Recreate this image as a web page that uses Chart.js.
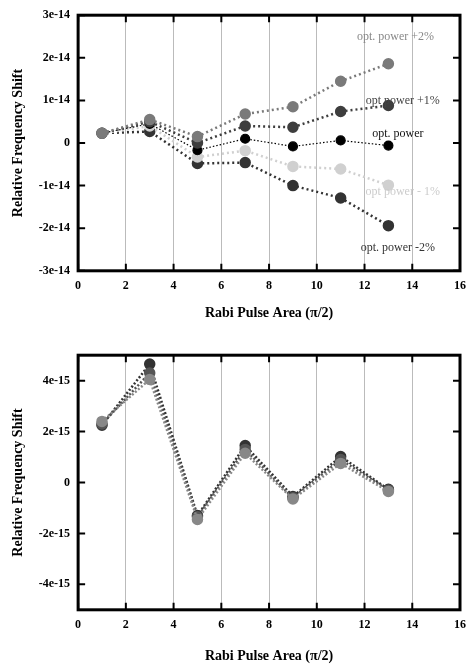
<!DOCTYPE html>
<html>
<head>
<meta charset="utf-8">
<script src="https://cdn.jsdelivr.net/npm/chart.js@4/dist/chart.umd.min.js"></script>
<style>
  body { margin: 0; background: #fff; }
  .box { position: absolute; left: 0; width: 474px; }
</style>
</head>
<body>
<div class="box" style="top:0;height:326px"><canvas id="top"></canvas></div>
<div class="box" style="top:340px;height:329px"><canvas id="bottom"></canvas></div>
<script>
// Datos
const pulsos = [1, 3, 5, 7, 9, 11, 13];

const potMas2 = [0.23e-14, 0.55e-14, 0.15e-14, 0.68e-14, 0.85e-14, 1.45e-14, 1.86e-14];
const potMas1 = [0.23e-14, 0.50e-14, 0.00e-14, 0.40e-14, 0.37e-14, 0.74e-14, 0.88e-14];
const potOpt = [0.23e-14, 0.45e-14, -0.17e-14, 0.10e-14, -0.08e-14, 0.06e-14, -0.06e-14];
const potMenos1 = [0.23e-14, 0.40e-14, -0.33e-14, -0.18e-14, -0.55e-14, -0.61e-14, -0.99e-14];
const potMenos2 = [0.23e-14, 0.27e-14, -0.48e-14, -0.46e-14, -1.00e-14, -1.29e-14, -1.94e-14];

const inferiorA = [2.25e-15, 4.65e-15, -1.30e-15, 1.45e-15, -0.55e-15, 1.02e-15, -0.27e-15];
const inferiorB = [2.30e-15, 4.30e-15, -1.35e-15, 1.30e-15, -0.60e-15, 0.90e-15, -0.30e-15];
const inferiorC = [2.40e-15, 4.05e-15, -1.45e-15, 1.15e-15, -0.65e-15, 0.75e-15, -0.35e-15];

const xTicks = [0, 2, 4, 6, 8, 10, 12, 14, 16];
const yTicksTop = [-3, -2, -1, 0, 1, 2, 3];      // x 1e-14
const yTicksBottom = [-4, -2, 0, 2, 4];          // x 1e-15

const etiquetas = [
  { text: 'opt. power +2%', x: 13.3, y: 2.5e-14, color: '#888' },
  { text: 'opt power +1%', x: 13.6, y: 1.0e-14, color: '#444' },
  { text: 'opt. power', x: 13.4, y: 0.22e-14, color: '#111' },
  { text: 'opt power - 1%', x: 13.6, y: -1.15e-14, color: '#ccc' },
  { text: 'opt. power -2%', x: 13.4, y: -2.45e-14, color: '#333' }
];

const fuente = '"Liberation Serif", serif';

function serie(data, color, width, dash) {
  return {
    data: pulsos.map((x, i) => ({ x, y: data[i] })),
    borderColor: color,
    backgroundColor: color,
    pointBackgroundColor: color,
    pointBorderColor: color,
    pointRadius: 4.5,
    borderWidth: width,
    borderDash: dash,
    showLine: true,
    tension: 0
  };
}

const marco = {
  id: 'marco',
  afterDraw(chart) {
    const { ctx, chartArea: a, scales } = chart;
    ctx.save();
    ctx.strokeStyle = '#000';
    ctx.lineWidth = 2;
    scales.x.ticks.forEach(t => {
      const px = scales.x.getPixelForValue(t.value);
      ctx.beginPath();
      ctx.moveTo(px, a.bottom); ctx.lineTo(px, a.bottom - 7);
      ctx.moveTo(px, a.top); ctx.lineTo(px, a.top + 7);
      ctx.stroke();
    });
    scales.y.ticks.forEach(t => {
      const py = scales.y.getPixelForValue(t.value);
      ctx.beginPath();
      ctx.moveTo(a.left, py); ctx.lineTo(a.left + 7, py);
      ctx.moveTo(a.right, py); ctx.lineTo(a.right - 7, py);
      ctx.stroke();
    });
    ctx.lineWidth = 3;
    ctx.strokeRect(a.left, a.top, a.right - a.left, a.bottom - a.top);
    const labels = chart.options.plugins.marco.labels || [];
    ctx.font = '12px ' + fuente;
    ctx.textAlign = 'center';
    ctx.textBaseline = 'middle';
    labels.forEach(l => {
      ctx.fillStyle = l.color;
      ctx.fillText(l.text, scales.x.getPixelForValue(l.x), scales.y.getPixelForValue(l.y));
    });
    ctx.restore();
  }
};

function opciones(ymax, yTicks, unidad, labels, padRight, padTop, titlePad) {
  return {
    responsive: true,
    maintainAspectRatio: false,
    animation: false,
    layout: { padding: { top: padTop, right: padRight, left: 6, bottom: 4 } },
    plugins: { legend: { display: false }, tooltip: { enabled: false }, marco: { labels } },
    scales: {
      x: {
        type: 'linear', min: 0, max: 16,
        afterBuildTicks: s => { s.ticks = xTicks.map(v => ({ value: v })); },
        grid: { color: '#bbb', lineWidth: 1, drawTicks: false },
        border: { display: false },
        ticks: { color: '#000', padding: 8, font: { family: fuente, weight: 'bold', size: 12 } },
        title: { display: true, text: 'Rabi Pulse Area (\u03c0/2)', color: '#000', padding: { top: titlePad, bottom: 0 },
          font: { family: fuente, weight: 'bold', size: 14 } }
      },
      y: {
        min: -ymax, max: ymax,
        afterBuildTicks: s => { s.ticks = yTicks.map(v => ({ value: v * unidad })); },
        grid: { display: false, drawTicks: false },
        border: { display: false },
        ticks: {
          color: '#000', padding: 8, font: { family: fuente, weight: 'bold', size: 12 },
          callback: v => {
            const n = Math.round(v / unidad);
            return n === 0 ? '0' : n + 'e-' + Math.round(-Math.log10(unidad));
          }
        },
        title: { display: true, text: 'Relative Frequency Shift', color: '#000',
          font: { family: fuente, weight: 'bold', size: 14 } }
      }
    }
  };
}

new Chart(document.getElementById('top'), {
  type: 'scatter',
  data: {
    datasets: [
      serie(potMas2, '#7a7a7a', 2.5, [2, 3]),
      serie(potMas1, '#3e3e3e', 2.5, [2, 3]),
      serie(potOpt, '#000', 1.2, [1.5, 2]),
      serie(potMenos1, '#d0d0d0', 2.5, [2, 3]),
      serie(potMenos2, '#333', 2.5, [2, 3])
    ]
  },
  options: opciones(3e-14, yTicksTop, 1e-14, etiquetas, 10, 0, 4),
  plugins: [marco]
});

new Chart(document.getElementById('bottom'), {
  type: 'scatter',
  data: {
    datasets: [
      serie(inferiorC, '#888', 2.5, [2, 2]),
      serie(inferiorB, '#555', 2.5, [2, 2]),
      serie(inferiorA, '#333', 2.5, [2, 2])
    ]
  },
  options: opciones(5e-15, yTicksBottom, 1e-15, [], 5, 2, 8),
  plugins: [marco]
});
</script>
</body>
</html>
